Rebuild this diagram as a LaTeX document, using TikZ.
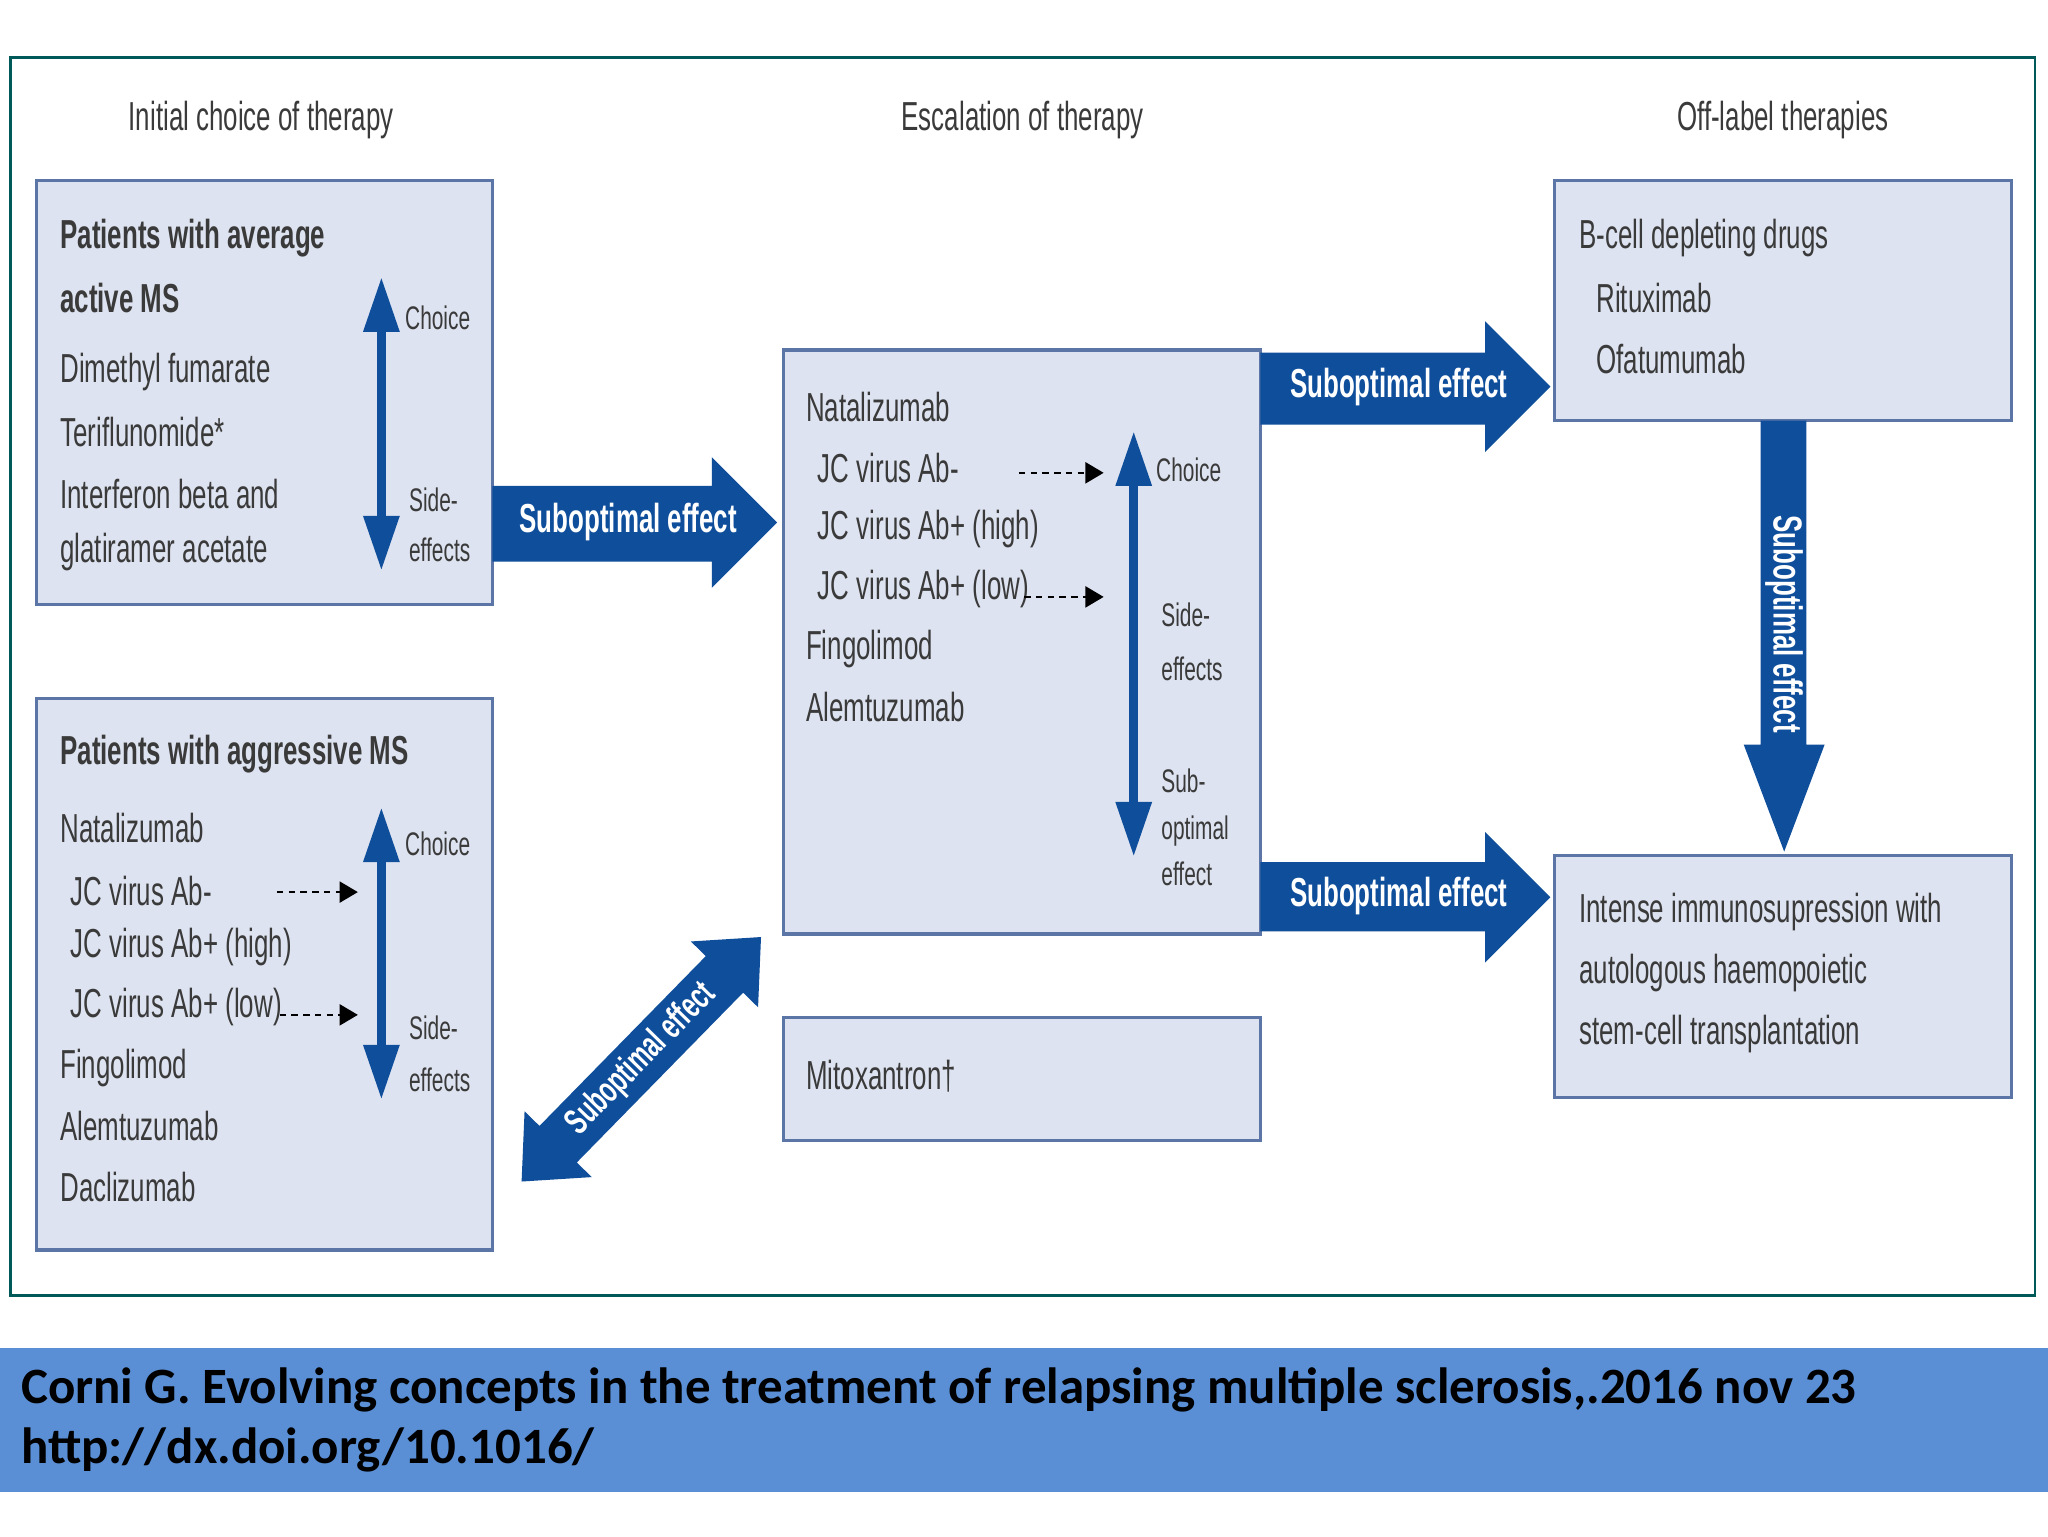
\documentclass[tikz,border=0pt]{standalone}
\usepackage{fontspec}
\setmainfont{Liberation Sans}[FakeStretch=0.64]
\newfontfamily\capfont{Carlito}
\usetikzlibrary{arrows.meta}
\definecolor{boxfill}{HTML}{DDE3F0}
\definecolor{boxline}{HTML}{5B76A6}
\definecolor{arr}{HTML}{0F4E9B}
\definecolor{txt}{HTML}{3A3A3A}
\definecolor{band}{HTML}{5A8FD5}
\begin{document}
\begin{tikzpicture}[x=1pt,y=-1pt,
  box/.style={fill=boxfill,draw=boxline,line width=2.5pt},
  t/.style={anchor=west,inner sep=0pt,text=txt,font=\fontsize{31}{33}\selectfont},
  h/.style={inner sep=0pt,text=txt,font=\fontsize{31}{33}\selectfont},
  s/.style={anchor=west,inner sep=0pt,text=txt,font=\fontsize{25}{27}\selectfont},
  w/.style={inner sep=0pt,text=white,font=\bfseries\fontsize{31}{33}\selectfont},
  va/.style={arr,line width=7pt,{Triangle[length=42pt,width=26pt]}-{Triangle[length=42pt,width=26pt]}},
  da/.style={black,line width=2pt,dash pattern=on 5pt off 4pt,-{Triangle[length=14pt,width=16pt]}}]
\useasboundingbox (0,0) rectangle (1568,1176);
\fill[white] (0,0) rectangle (1568,1176);
\draw[draw=teal!70!black,line width=2pt] (8,44) rectangle (1558,992);
\node[h] (h1) at (200,92) {Initial choice of therapy};
\node[h] (h2) at (783,92) {Escalation of therapy};
\node[h] (h3) at (1365,92) {Off-label therapies};
% boxes
\draw[box] (28,138) rectangle (377,463);
\draw[box] (28,535) rectangle (377,957);
\draw[box] (600,268) rectangle (965,715);
\draw[box] (600,779) rectangle (965,873);
\draw[box] (1190,138) rectangle (1540,322);
\draw[box] (1190,655) rectangle (1540,840);
% box1
\node[t,font=\bfseries\fontsize{31}{33}\selectfont] (a1) at (46,182) {Patients with average};
\node[t,font=\bfseries\fontsize{31}{33}\selectfont] (a2) at (46,228) {active MS};
\node[t] (a3) at (46,285) {Dimethyl fumarate};
\node[t] (a4) at (46,331) {Teriflunomide*};
\node[t] (a5) at (46,378) {Interferon beta and};
\node[t] (a6) at (46,423) {glatiramer acetate};
\node[s] (a7) at (310,243) {Choice};
\node[s] (a8) at (313,383) {Side-};
\node[s] (a9) at (313,421) {effects};
\coordinate (v1a) at (292,212); \coordinate (v1b) at (292,437);
\draw[va] (v1a) -- (v1b);
% box2
\node[t,font=\bfseries\fontsize{31}{33}\selectfont] (b1) at (46,577) {Patients with aggressive MS};
\node[t] (b2) at (46,634) {Natalizumab};
\node[t] (b3) at (54,682) {JC virus Ab-};
\node[t] (b4) at (54,725) {JC virus Ab+ (high)};
\node[t] (b5) at (54,771) {JC virus Ab+ (low)};
\node[t] (b6) at (46,818) {Fingolimod};
\node[t] (b7) at (46,862) {Alemtuzumab};
\node[t] (b8) at (46,909) {Daclizumab};
\node[s] (b9) at (310,646) {Choice};
\node[s] (b10) at (313,787) {Side-};
\node[s] (b11) at (313,827) {effects};
\coordinate (v2a) at (292,618); \coordinate (v2b) at (292,842);
\draw[va] (v2a) -- (v2b);
\coordinate (d1a) at (212,683); \coordinate (d1b) at (274,683);
\coordinate (d2a) at (214,777); \coordinate (d2b) at (274,777);
\draw[da] (d1a) -- (d1b); \draw[da] (d2a) -- (d2b);
% box3
\node[t] (c1) at (617,312) {Natalizumab};
\node[t] (c2) at (626,358) {JC virus Ab-};
\node[t] (c3) at (626,405) {JC virus Ab+ (high)};
\node[t] (c4) at (626,451) {JC virus Ab+ (low)};
\node[t] (c5) at (617,497) {Fingolimod};
\node[t] (c6) at (617,541) {Alemtuzumab};
\node[s] (c7) at (885,360) {Choice};
\node[s] (c8) at (889,471) {Side-};
\node[s] (c9) at (889,512) {effects};
\node[s] (c10) at (889,598) {Sub-};
\node[s] (c11) at (889,636) {optimal};
\node[s] (c12) at (889,669) {effect};
\coordinate (v3a) at (868,330); \coordinate (v3b) at (868,656);
\draw[va] (v3a) -- (v3b);
\coordinate (d3a) at (780,362); \coordinate (d3b) at (845,362);
\coordinate (d4a) at (784,457); \coordinate (d4b) at (845,457);
\draw[da] (d3a) -- (d3b); \draw[da] (d4a) -- (d4b);
% box4
\node[t] (m1) at (617,824) {Mitoxantron\textdagger};
% box5
\node[t] (e1) at (1209,182) {B-cell depleting drugs};
\node[t] (e2) at (1222,228) {Rituximab};
\node[t] (e3) at (1222,275) {Ofatumumab};
% box6
\node[t] (f1) at (1209,698) {Intense immunosupression with};
\node[t] (f2) at (1209,745) {autologous haemopoietic};
\node[t] (f3) at (1209,792) {stem-cell transplantation};
% block arrows
\fill[arr] (377,372) -- (545,372) -- (545,350) -- (595,400) -- (545,450) -- (545,430) -- (377,430) -- cycle;
\node[w] (w1) at (481,400) {Suboptimal effect};
\fill[arr] (965,270) -- (1137,270) -- (1137,246) -- (1187,296) -- (1137,346) -- (1137,325) -- (965,325) -- cycle;
\node[w] (w2) at (1071,296) {Suboptimal effect};
\fill[arr] (965,660) -- (1137,660) -- (1137,637) -- (1187,687) -- (1137,737) -- (1137,713) -- (965,713) -- cycle;
\node[w] (w3) at (1071,686) {Suboptimal effect};
\fill[arr] (1348,322) -- (1348,570) -- (1335,570) -- (1366,652) -- (1397,570) -- (1383,570) -- (1383,322) -- cycle;
\node[w,rotate=-90] (w4) at (1366,478) {Suboptimal effect};
\begin{scope}[shift={(491,811)},rotate=45.6]
\fill[arr] (-131,0) -- (-91,-36) -- (-91,-20) -- (91,-20) -- (91,-36) -- (131,0) -- (91,36) -- (91,20) -- (-91,20) -- (-91,36) -- cycle;
\end{scope}
\node[w,rotate=45.6,font=\bfseries\fontsize{28}{30}\selectfont] (w5) at (491,811) {Suboptimal effect};
% caption
\fill[band] (0,1032) rectangle (1568,1142);
\node[anchor=west,inner sep=0pt,font=\capfont\bfseries\fontsize{39}{41}\selectfont] (cap1) at (16,1064) {Corni G. Evolving concepts in the treatment of relapsing multiple sclerosis,.2016 nov 23};
\node[anchor=west,inner sep=0pt,font=\capfont\bfseries\fontsize{39}{41}\selectfont] (cap2) at (16,1110) {http://dx.doi.org/10.1016/};
\end{tikzpicture}
\end{document}
